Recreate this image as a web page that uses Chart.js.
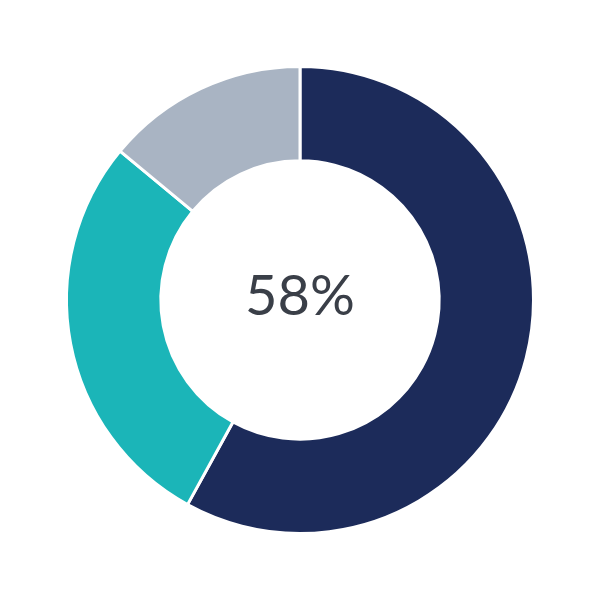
<!DOCTYPE html>
<html>
<head>
<meta charset="utf-8">
<script src="https://cdn.jsdelivr.net/npm/chart.js@4"></script>
<style>
  html, body { margin: 0; padding: 0; background: #ffffff; }
  #wrap { width: 600px; height: 600px; }
</style>
</head>
<body>
<div id="wrap"><canvas id="shareChart" width="600" height="600"></canvas></div>
<script>
// данные диаграммы
const categories = ['A', 'B', 'C'];
const shareValues = [58, 28, 14];
const sliceColors = ['#1c2b5a', '#1bb5b8', '#a9b4c3'];
const centerLabel = '58%';

// текст в центре кольца
const centerText = {
    id: 'centerText',
    afterDraw(chart) {
        const meta = chart.getDatasetMeta(0);
        if (!meta.data.length) return;
        const { x, y } = meta.data[0];
        const ctx = chart.ctx;
        ctx.save();
        ctx.font = '400 56px Lato';
        ctx.fillStyle = '#3a3f48';
        ctx.textAlign = 'center';
        ctx.textBaseline = 'middle';
        ctx.fillText(centerLabel, x, y - 3);
        ctx.restore();
    }
};

const ctx = document.getElementById('shareChart').getContext('2d');
new Chart(ctx, {
    type: 'doughnut',
    data: {
        labels: categories,
        datasets: [{
            data: shareValues,
            backgroundColor: sliceColors,
            borderColor: '#ffffff',
            borderWidth: 3
        }]
    },
    options: {
        responsive: false,
        animation: false,
        cutout: '59.6%',
        layout: { padding: 65 },
        plugins: {
            legend: { display: false },
            tooltip: { enabled: false }
        }
    },
    plugins: [centerText]
});
</script>
</body>
</html>
